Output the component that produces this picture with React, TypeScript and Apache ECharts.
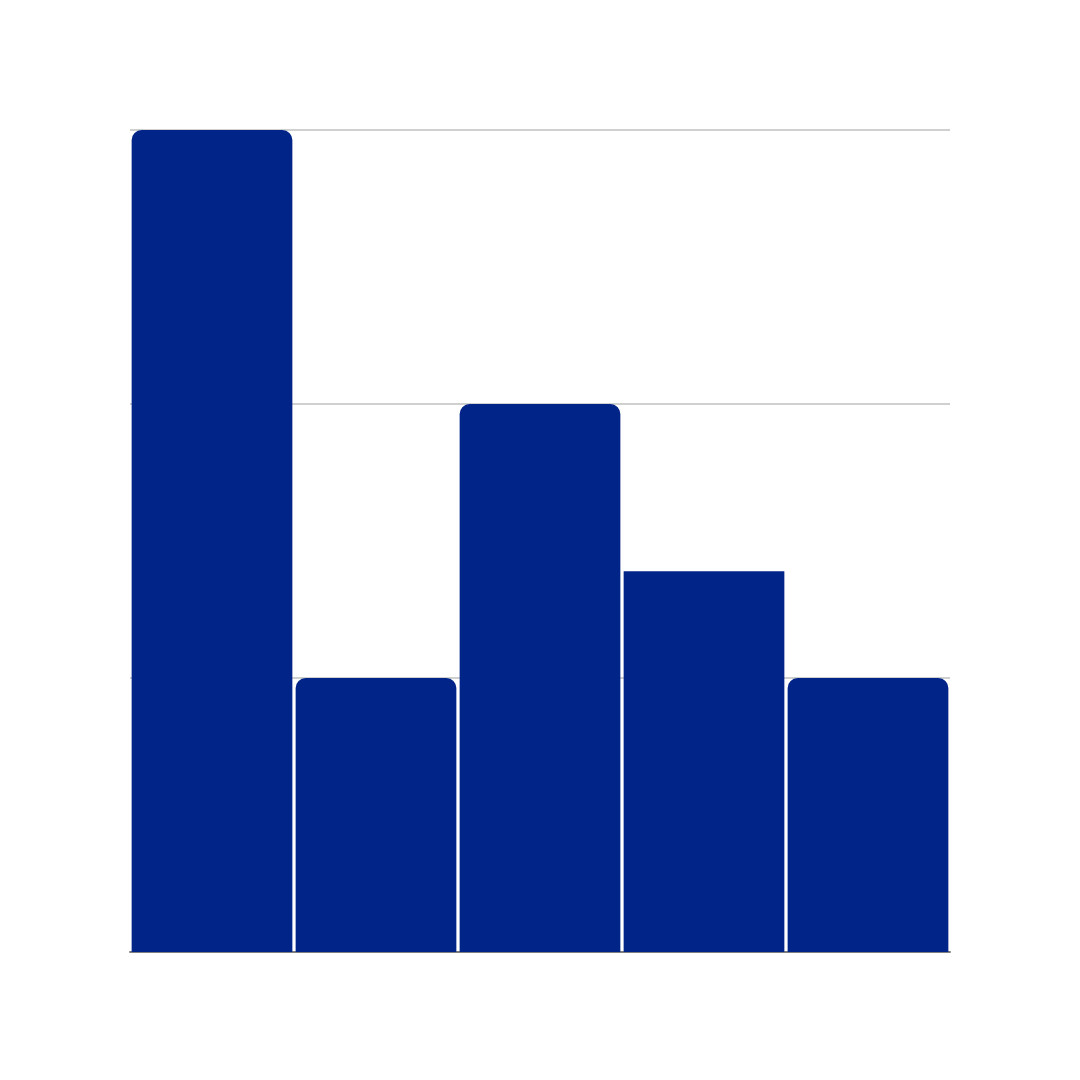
import React, { useEffect, useRef } from 'react';
import * as echarts from 'echarts';

const categories = ['A', 'B', 'C', 'D', 'E'];
const values = [3, 1, 2, 1.39, 1];
const roundedTop = [true, true, true, false, true];

const App: React.FC = () => {
  const chartRef = useRef<HTMLDivElement>(null);

  useEffect(() => {
    const chart = echarts.init(chartRef.current!, undefined, { renderer: 'svg' });

    const option = {
      animation: false,
      backgroundColor: '#ffffff',
      grid: { left: 130, right: 130, top: 130, bottom: 128 },
      xAxis: {
        type: 'category',
        data: categories,
        axisLine: { show: true, lineStyle: { color: '#7f7f7f', width: 2 } },
        axisTick: { show: false },
        axisLabel: { show: false }
      },
      yAxis: {
        type: 'value',
        min: 0,
        max: 3,
        interval: 1,
        axisLine: { show: false },
        axisTick: { show: false },
        axisLabel: { show: false },
        splitLine: { lineStyle: { color: '#c0c0c0', width: 1.5 } }
      },
      series: [
        {
          type: 'bar',
          barCategoryGap: '2%',
          data: values.map((v, i) => ({
            value: v,
            itemStyle: { borderRadius: roundedTop[i] ? [10, 10, 0, 0] : 0 }
          })),
          itemStyle: { color: '#012489' }
        }
      ]
    };

    chart.setOption(option);

    return () => {
      chart.dispose();
    };
  }, []);

  return (
    <div
      ref={chartRef}
      style={{ position: 'fixed', left: 0, top: 0, width: '1080px', height: '1080px' }}
    />
  );
};

export default App;
